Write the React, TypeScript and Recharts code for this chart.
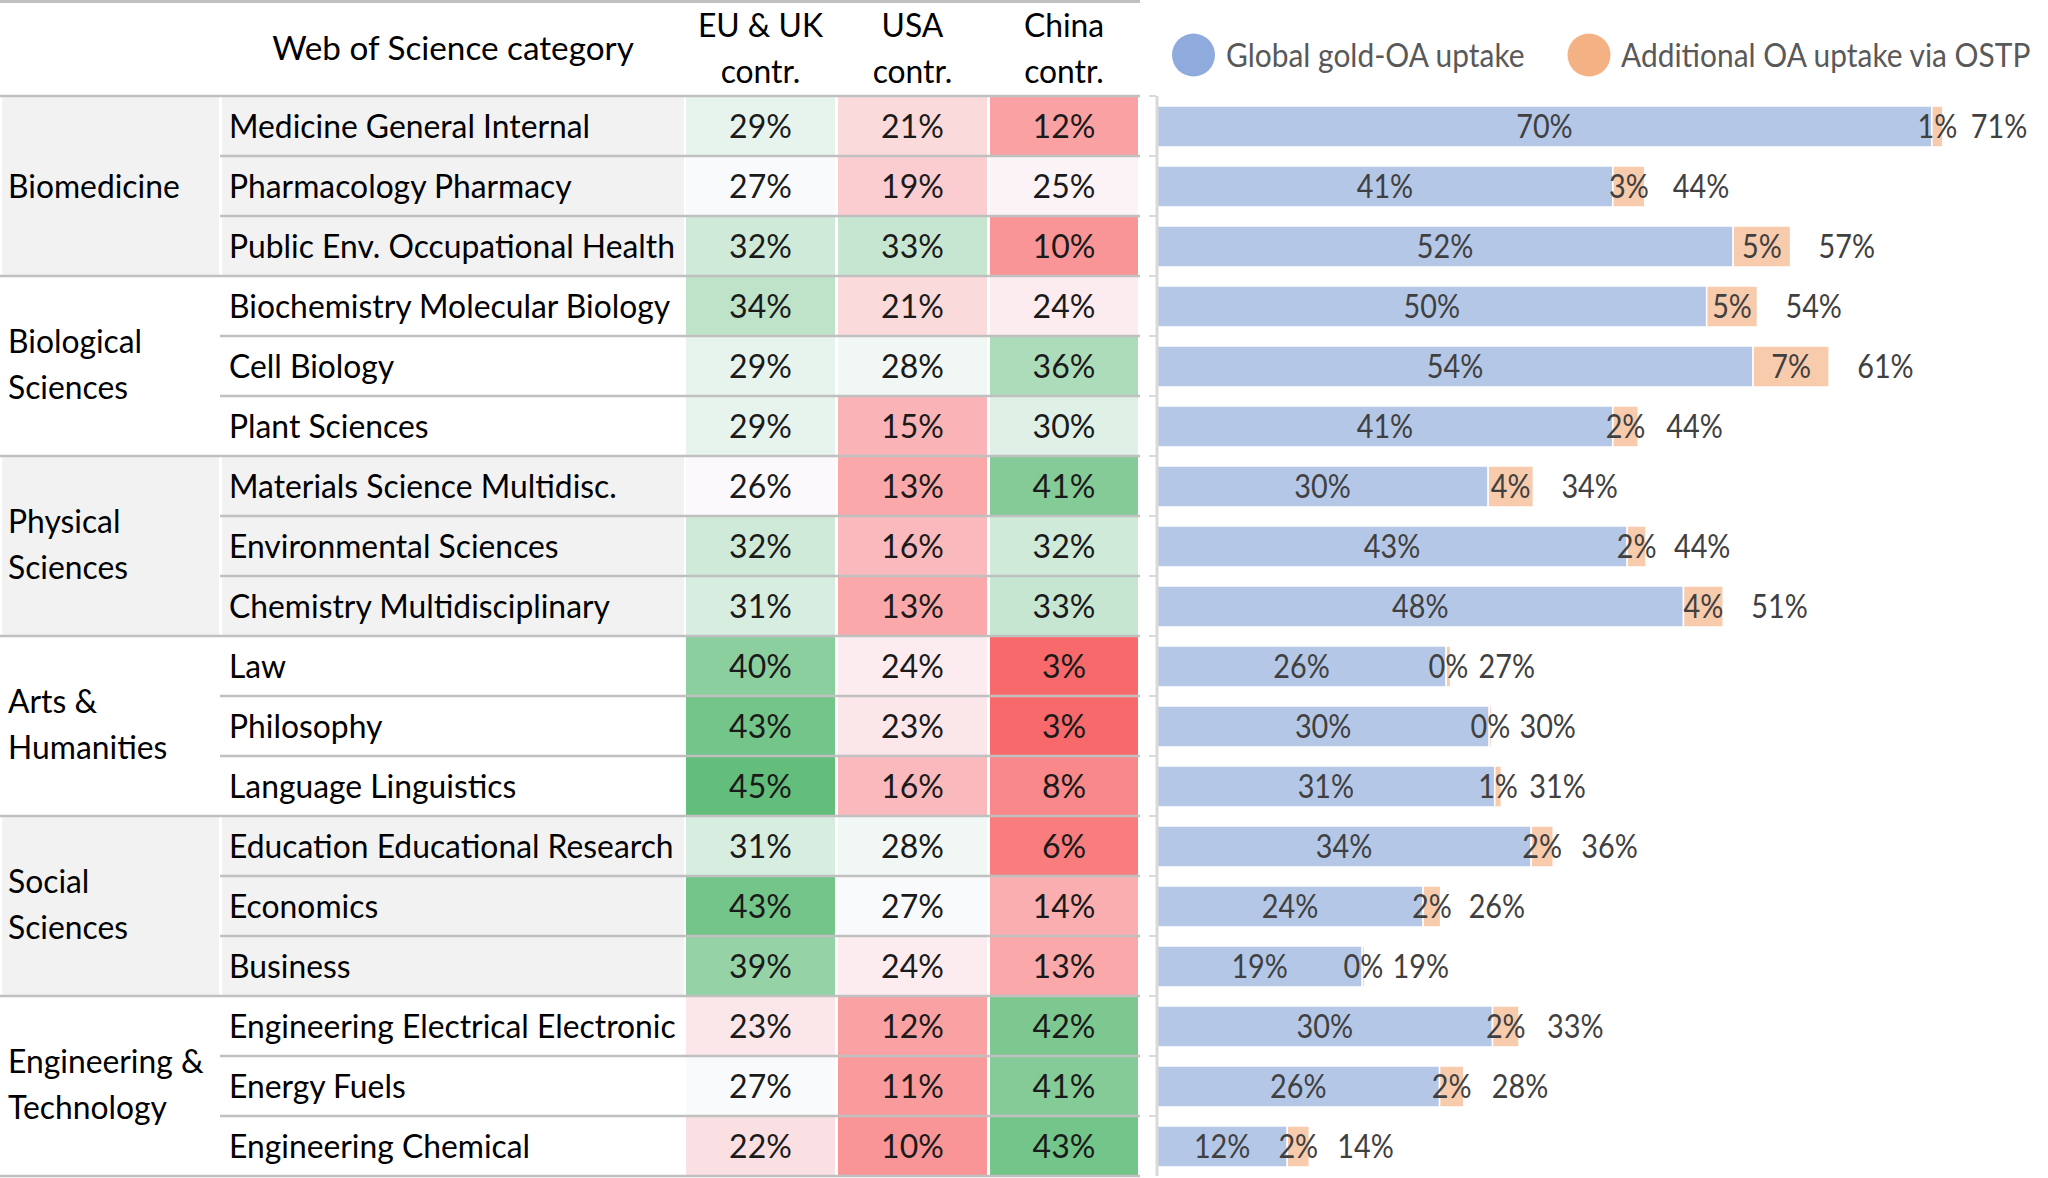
import React from 'react';
import { BarChart, Bar, XAxis, YAxis, Legend, LabelList } from 'recharts';

// ---------- data ----------
const groupNames: string[][] = [
  ['Biomedicine'],
  ['Biological', 'Sciences'],
  ['Physical', 'Sciences'],
  ['Arts &', 'Humanities'],
  ['Social', 'Sciences'],
  ['Engineering &', 'Technology'],
];

const categories = [
  'Medicine General Internal',
  'Pharmacology Pharmacy',
  'Public Env. Occupational Health',
  'Biochemistry Molecular Biology',
  'Cell Biology',
  'Plant Sciences',
  'Materials Science Multidisc.',
  'Environmental Sciences',
  'Chemistry Multidisciplinary',
  'Law',
  'Philosophy',
  'Language Linguistics',
  'Education Educational Research',
  'Economics',
  'Business',
  'Engineering Electrical Electronic',
  'Energy Fuels',
  'Engineering Chemical',
];

const categoryGroup = [0, 0, 0, 1, 1, 1, 2, 2, 2, 3, 3, 3, 4, 4, 4, 5, 5, 5];

const euContr = [29, 27, 32, 34, 29, 29, 26, 32, 31, 40, 43, 45, 31, 43, 39, 23, 27, 22];
const usaContr = [21, 19, 33, 21, 28, 15, 13, 16, 13, 24, 23, 16, 28, 27, 24, 12, 11, 10];
const chinaContr = [12, 25, 10, 24, 36, 30, 41, 32, 33, 3, 3, 8, 6, 14, 13, 42, 41, 43];

const goldOA = [70.2, 41.3, 52.2, 49.8, 54.0, 41.3, 30.0, 42.6, 47.7, 26.2, 30.1, 30.6, 33.9, 24.1, 18.6, 30.4, 25.6, 11.8];
const ostpExtra = [1.0, 2.9, 5.2, 4.6, 6.9, 2.3, 4.1, 1.7, 3.6, 0.4, 0.2, 0.6, 2.0, 1.6, 0.2, 2.4, 2.2, 2.0];

const tableHeader = 'Web of Science category';
const columnHeaders: string[][] = [
  ['EU & UK', 'contr.'],
  ['USA', 'contr.'],
  ['China', 'contr.'],
];
const seriesNames = ['Global gold-OA uptake', 'Additional OA uptake via OSTP'];

// ---------- style / layout ----------
const FONT = "Lato, 'Open Sans', sans-serif";
const CHART_W = 2048;
const CHART_H = 1178;
const TOP = 96;
const BOTTOM = 2;
const ROW_H = (CHART_H - TOP - BOTTOM) / categories.length;
const AXIS_W = 1157;

const GROUP_X0 = 2;
const GROUP_X1 = 219;
const CAT_X0 = 222;
const CAT_X1 = 684;
const CELL_X = [[686, 835], [838, 987], [990, 1138]];
const TABLE_RIGHT = 1140;
const LINE_COLOR = '#c0c0c0';
const SHADE = '#f2f2f2';

const TABLE_SIZE = 32;
const TABLE_SX = 0.995;
const LABEL_SIZE = 32;
const LABEL_SX = 0.9;
const LEGEND_SX = 0.935;

const BLUE = '#B4C7E7';
const ORANGE = '#F8CBAD';
const LEGEND_COLORS = ['#8FAADC', '#F4B183'];

// ---------- colour scale (Excel 3-colour: min / median / max) ----------
const allVals = [...euContr, ...usaContr, ...chinaContr];
const sortedVals = [...allVals].sort((a, b) => a - b);
const vMin = sortedVals[0];
const vMax = sortedVals[sortedVals.length - 1];
const vMid =
  sortedVals.length % 2 === 0
    ? (sortedVals[sortedVals.length / 2 - 1] + sortedVals[sortedVals.length / 2]) / 2
    : sortedVals[(sortedVals.length - 1) / 2];
const LOW = [248, 105, 107];
const MID = [252, 252, 255];
const HIGH = [99, 190, 123];
function heat(v: number): string {
  let a: number[], b: number[], t: number;
  if (v <= vMid) {
    a = LOW; b = MID; t = (v - vMin) / (vMid - vMin);
  } else {
    a = MID; b = HIGH; t = (v - vMid) / (vMax - vMid);
  }
  const c = a.map((x, k) => Math.round(x + (b[k] - x) * t));
  return `rgb(${c[0]},${c[1]},${c[2]})`;
}

const data = categories.map((c, i) => ({
  category: c,
  gold: goldOA[i],
  extra: ostpExtra[i],
  total: goldOA[i] + ostpExtra[i],
}));

// ---------- helpers ----------
function Txt({ x, y, children, anchor = 'start', size = TABLE_SIZE, sx = TABLE_SX, fill = '#000' }: any) {
  return (
    <text
      transform={`translate(${x},${y}) scale(${sx},1)`}
      textAnchor={anchor}
      fontSize={size}
      fontFamily={FONT}
      fill={fill}
    >
      {children}
    </text>
  );
}

const TableRow = (props: any) => {
  const { y, payload } = props;
  const i = categories.indexOf(payload.value);
  if (i < 0) return <g />;
  const top = y - ROW_H / 2;
  const g = categoryGroup[i];
  const shaded = g % 2 === 0;
  const first = i === 0 || categoryGroup[i - 1] !== g;
  const last = i === categories.length - 1;
  const groupSize = categoryGroup.filter((x) => x === g).length;
  const groupH = groupSize * ROW_H;
  const groupCenter = top + groupH / 2;
  const vals = [euContr[i], usaContr[i], chinaContr[i]];
  const base = y + 12;
  const gLines = groupNames[g];
  return (
    <g>
      {i === 0 && (
        <g>
          <line x1={0} x2={TABLE_RIGHT} y1={1.5} y2={1.5} stroke={LINE_COLOR} strokeWidth={3} />
          <Txt x={(CAT_X0 + CAT_X1) / 2} y={60} anchor="middle" sx={1.04}>{tableHeader}</Txt>
          {columnHeaders.map((h, k) => (
            <g key={k}>
              <Txt x={(CELL_X[k][0] + CELL_X[k][1]) / 2} y={37} anchor="middle">{h[0]}</Txt>
              <Txt x={(CELL_X[k][0] + CELL_X[k][1]) / 2} y={83} anchor="middle">{h[1]}</Txt>
            </g>
          ))}
        </g>
      )}
      {shaded && first && <rect x={GROUP_X0} y={top} width={GROUP_X1 - GROUP_X0} height={groupH} fill={SHADE} />}
      {shaded && <rect x={CAT_X0} y={top} width={CAT_X1 - CAT_X0} height={ROW_H} fill={SHADE} />}
      {CELL_X.map((cx, k) => (
        <rect key={k} x={cx[0]} y={top} width={cx[1] - cx[0]} height={ROW_H} fill={heat(vals[k])} />
      ))}
      <line x1={first ? 0 : GROUP_X1 + 1} x2={TABLE_RIGHT} y1={top} y2={top} stroke={LINE_COLOR} strokeWidth={2.5} />
      {last && <line x1={0} x2={TABLE_RIGHT} y1={top + ROW_H} y2={top + ROW_H} stroke={LINE_COLOR} strokeWidth={2.5} />}
      <line x1={1149} x2={1156} y1={top} y2={top} stroke="#d9d9d9" strokeWidth={2} />
      <Txt x={229} y={base}>{categories[i]}</Txt>
      {CELL_X.map((cx, k) => (
        <Txt key={k} x={(cx[0] + cx[1]) / 2} y={base} anchor="middle" sx={1} fill="#1a1a1a">{`${vals[k]}%`}</Txt>
      ))}
      {first &&
        gLines.map((s, k) => (
          <Txt key={k} x={8} y={gLines.length === 1 ? groupCenter + 12 : groupCenter - 13 + k * 46}>{s}</Txt>
        ))}
    </g>
  );
};

const capOffset = LABEL_SIZE * 0.358;

const centerLabel = (props: any) => {
  const { x, y, width, height, value } = props;
  const cx = Number(x) + Number(width) / 2;
  const cy = Number(y) + Number(height) / 2 + capOffset;
  return (
    <Txt x={cx} y={cy} anchor="middle" size={LABEL_SIZE} sx={LABEL_SX} fill="#404040">
      {`${Math.round(Number(value))}%`}
    </Txt>
  );
};

const totalLabel = (props: any) => {
  const { x, y, width, height, value } = props;
  const tx = Number(x) + Number(width) + 28;
  const cy = Number(y) + Number(height) / 2 + capOffset;
  return (
    <Txt x={tx} y={cy} anchor="start" size={LABEL_SIZE} sx={LABEL_SX} fill="#404040">
      {`${Math.round(Number(value))}%`}
    </Txt>
  );
};

const LegendContent = () => (
  <svg width={888} height={46} style={{ display: 'block' }}>
    <circle cx={33.5} cy={22} r={21.5} fill={LEGEND_COLORS[0]} />
    <Txt x={66} y={34} size={32} sx={LEGEND_SX} fill="#595959">{seriesNames[0]}</Txt>
    <circle cx={429} cy={22} r={21.5} fill={LEGEND_COLORS[1]} />
    <Txt x={461} y={34} size={32} sx={LEGEND_SX} fill="#595959">{seriesNames[1]}</Txt>
  </svg>
);

export default function App() {
  return (
    <div style={{ position: 'absolute', left: 0, top: 0, width: CHART_W, height: CHART_H, background: '#fff' }}>
      <BarChart
        width={CHART_W}
        height={CHART_H}
        data={data}
        layout="vertical"
        margin={{ top: TOP, right: 8, bottom: BOTTOM, left: 0 }}
        barSize={41}
      >
        <XAxis type="number" domain={[0, 80]} hide />
        <YAxis
          type="category"
          dataKey="category"
          width={AXIS_W}
          interval={0}
          tickLine={false}
          axisLine={{ stroke: '#d9d9d9', strokeWidth: 3 }}
          tick={TableRow}
        />
        <Legend
          layout="vertical"
          align="center"
          verticalAlign="middle"
          wrapperStyle={{ top: 33, left: 1160, width: 888, height: 46 }}
          content={LegendContent}
        />
        <Bar dataKey="gold" name={seriesNames[0]} stackId="a" fill={BLUE} stroke="#fff" strokeWidth={1.5} isAnimationActive={false}>
          <LabelList dataKey="gold" content={centerLabel} />
        </Bar>
        <Bar dataKey="extra" name={seriesNames[1]} stackId="a" fill={ORANGE} stroke="#fff" strokeWidth={1.5} isAnimationActive={false}>
          <LabelList dataKey="extra" content={centerLabel} />
          <LabelList dataKey="total" content={totalLabel} />
        </Bar>
      </BarChart>
    </div>
  );
}
